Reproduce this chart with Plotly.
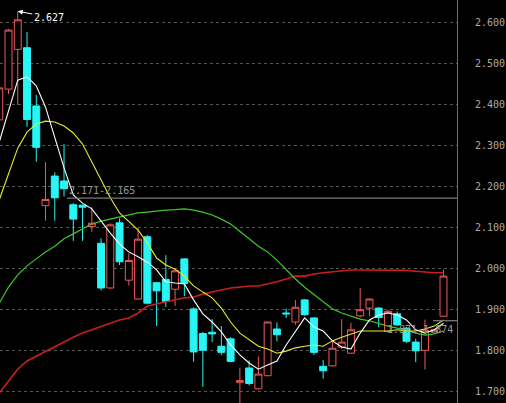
import plotly.graph_objects as go

# ---- data ----
idx = list(range(49))
opens = [2.362, 2.437, 2.534, 2.538, 2.396, 2.153, 2.225, 2.213, 2.155, 2.154,
         2.102, 2.061, 1.952, 2.111, 1.971, 1.925, 2.077, 1.965, 1.973, 1.949,
         2.023, 1.901, 1.841, 1.844, 1.810, 1.828, 1.722, 1.757, 1.706, 1.738,
         1.852, 1.891, 1.869, 1.923, 1.879, 1.761, 1.762, 1.808, 1.793, 1.884,
         1.903, 1.903, 1.846, 1.889, 1.854, 1.820, 1.800, 1.845, 1.883]
highs = [2.445, 2.584, 2.627, 2.576, 2.423, 2.259, 2.234, 2.303, 2.159, 2.155,
         2.150, 2.073, 2.110, 2.122, 2.037, 2.099, 2.081, 1.966, 2.032, 2.000,
         2.024, 1.905, 1.845, 1.876, 1.859, 1.832, 1.757, 1.775, 1.785, 1.870,
         1.868, 1.902, 1.923, 1.925, 1.880, 1.776, 1.822, 1.876, 1.867, 1.952,
         1.927, 1.905, 1.899, 1.895, 1.857, 1.828, 1.875, 1.852, 1.997]
lows = [2.345, 2.425, 2.398, 2.345, 2.260, 2.116, 2.116, 2.175, 2.067, 2.067,
        2.089, 1.946, 1.950, 2.008, 1.958, 1.924, 1.912, 1.859, 1.906, 1.908,
        1.932, 1.772, 1.711, 1.820, 1.789, 1.772, 1.660, 1.714, 1.705, 1.737,
        1.822, 1.879, 1.862, 1.884, 1.789, 1.731, 1.761, 1.803, 1.792, 1.880,
        1.883, 1.856, 1.845, 1.860, 1.818, 1.771, 1.753, 1.843, 1.882]
closes = [2.440, 2.581, 2.606, 2.363, 2.295, 2.168, 2.172, 2.194, 2.120, 2.149,
          2.110, 1.952, 2.106, 2.016, 2.019, 2.071, 1.915, 1.945, 1.919, 1.994,
          1.963, 1.796, 1.800, 1.840, 1.795, 1.773, 1.726, 1.719, 1.742, 1.869,
          1.838, 1.889, 1.905, 1.887, 1.795, 1.750, 1.805, 1.820, 1.850, 1.899,
          1.925, 1.880, 1.895, 1.862, 1.822, 1.799, 1.849, 1.850, 1.981]

ma5 = [2.308, 2.386, 2.459, 2.467, 2.445, 2.393, 2.318, 2.245, 2.179, 2.159,
       2.145, 2.115, 2.086, 2.059, 2.040, 2.028, 2.015, 1.996, 1.967, 1.964,
       1.962, 1.923, 1.889, 1.869, 1.845, 1.813, 1.789, 1.769, 1.754, 1.764,
       1.774, 1.813, 1.845, 1.879, 1.857, 1.847, 1.823, 1.808, 1.803, 1.842,
       1.874, 1.886, 1.891, 1.886, 1.874, 1.850, 1.842, 1.850, 1.866]
ma10 = [2.167, 2.228, 2.293, 2.332, 2.352, 2.359, 2.357, 2.347, 2.330, 2.303,
        2.259, 2.213, 2.172, 2.135, 2.113, 2.093, 2.062, 2.025, 2.008, 1.998,
        1.981, 1.957, 1.942, 1.928, 1.903, 1.869, 1.842, 1.825, 1.810, 1.803,
        1.793, 1.798, 1.806, 1.810, 1.813, 1.810, 1.823, 1.832, 1.840, 1.847,
        1.847, 1.847, 1.847, 1.850, 1.847, 1.847, 1.852, 1.859, 1.874]
ma30 = [1.915, 1.954, 1.984, 2.006, 2.023, 2.040, 2.054, 2.072, 2.084, 2.096,
        2.108, 2.115, 2.120, 2.125, 2.130, 2.135, 2.137, 2.140, 2.142, 2.143,
        2.145, 2.142, 2.137, 2.130, 2.120, 2.108, 2.091, 2.072, 2.054, 2.040,
        2.020, 1.996, 1.974, 1.954, 1.937, 1.918, 1.901, 1.891, 1.884, 1.876,
        1.872, 1.865, 1.859, 1.854, 1.850, 1.842, 1.837, 1.840, 1.847]
ma60 = [1.696, 1.725, 1.754, 1.774, 1.786, 1.798, 1.808, 1.820, 1.832, 1.842,
        1.850, 1.859, 1.867, 1.874, 1.879, 1.891, 1.908, 1.913, 1.918, 1.923,
        1.928, 1.930, 1.937, 1.942, 1.947, 1.952, 1.954, 1.957, 1.957, 1.962,
        1.967, 1.974, 1.981, 1.981, 1.986, 1.989, 1.991, 1.993, 1.996, 1.996,
        1.996, 1.996, 1.996, 1.996, 1.995, 1.993, 1.991, 1.989, 1.989]

tick_vals = [1.7, 1.8, 1.9, 2.0, 2.1, 2.2, 2.3, 2.4, 2.5, 2.6]
tick_text = ["1.700", "1.800", "1.900", "2.000", "2.100",
             "2.200", "2.300", "2.400", "2.500", "2.600"]

hi_label = "2.627"
hi_index = 2
hi_value = 2.627
mark1_text = "2.171-2.165"
mark1_value = 2.171
mark1_start = 7.32
mark2_text = "1.871-1.874"
mark2_value = 1.8722
mark2_start = 46.87

X_MIN, X_MAX = 0.081, 49.46
Y_MIN, Y_MAX = 1.6715, 2.6544

RED = "rgb(240,88,88)"
CYAN = "rgb(40,245,245)"
MONO = "DejaVu Sans Mono"

fig = go.Figure()
fig.add_trace(go.Candlestick(
    x=idx, open=opens, high=highs, low=lows, close=closes,
    increasing=dict(line=dict(color=RED, width=1), fillcolor="black"),
    decreasing=dict(line=dict(color=CYAN, width=1), fillcolor=CYAN),
    whiskerwidth=0, showlegend=False, hoverinfo="skip"))

for vals, col, w in [(ma60, "rgb(200,30,30)", 1.6), (ma30, "rgb(60,200,40)", 1.2),
                     (ma10, "rgb(235,235,40)", 1.1), (ma5, "white", 1.1)]:
    fig.add_trace(go.Scatter(x=idx, y=vals, mode="lines",
                             line=dict(color=col, width=w),
                             showlegend=False, hoverinfo="skip"))

fig.add_shape(type="line", xref="x", yref="y", x0=mark1_start, x1=X_MAX,
              y0=mark1_value, y1=mark1_value, line=dict(color="rgb(120,120,120)", width=1.3))
fig.add_shape(type="line", xref="x", yref="y", x0=mark2_start, x1=X_MAX,
              y0=mark2_value, y1=mark2_value, line=dict(color="rgb(120,120,120)", width=1.3))

fig.add_annotation(x=mark1_start + 0.05, y=mark1_value, text=mark1_text, showarrow=False,
                   xanchor="left", yanchor="bottom", yshift=0,
                   font=dict(family=MONO, size=10, color="rgb(150,150,150)"))
fig.add_annotation(x=49.24, y=mark2_value, text=mark2_text, showarrow=False,
                   xanchor="right", yanchor="top", yshift=-1,
                   font=dict(family=MONO, size=10, color="rgb(150,150,150)"))
fig.add_annotation(x=hi_index, y=hi_value, text=hi_label, showarrow=True,
                   ax=31, ay=6, arrowcolor="white", arrowwidth=1, arrowhead=2,
                   arrowsize=1, standoff=0,
                   font=dict(family=MONO, size=10, color="white"))

fig.update_layout(
    width=506, height=403,
    margin=dict(l=0, r=49, t=0, b=0),
    paper_bgcolor="black", plot_bgcolor="black",
    showlegend=False, hovermode=False,
    boxgap=0.25, boxgroupgap=0,
    xaxis=dict(range=[X_MIN, X_MAX], visible=False, rangeslider=dict(visible=False),
               showgrid=False, zeroline=False),
    yaxis=dict(range=[Y_MIN, Y_MAX], side="right", tickvals=tick_vals, ticktext=tick_text,
               tickfont=dict(family=MONO, size=10, color="rgb(170,170,170)"),
               ticks="outside", ticklen=15, tickcolor="rgba(0,0,0,0)",
               showgrid=True, gridcolor="rgb(85,85,85)", griddash="dot", gridwidth=1,
               zeroline=False, showline=True, linecolor="rgb(110,110,110)", linewidth=1),
)

fig.write_html("out.html", config={"displayModeBar": False},
               post_script="document.body.style.margin='0';document.body.style.background='black';")
